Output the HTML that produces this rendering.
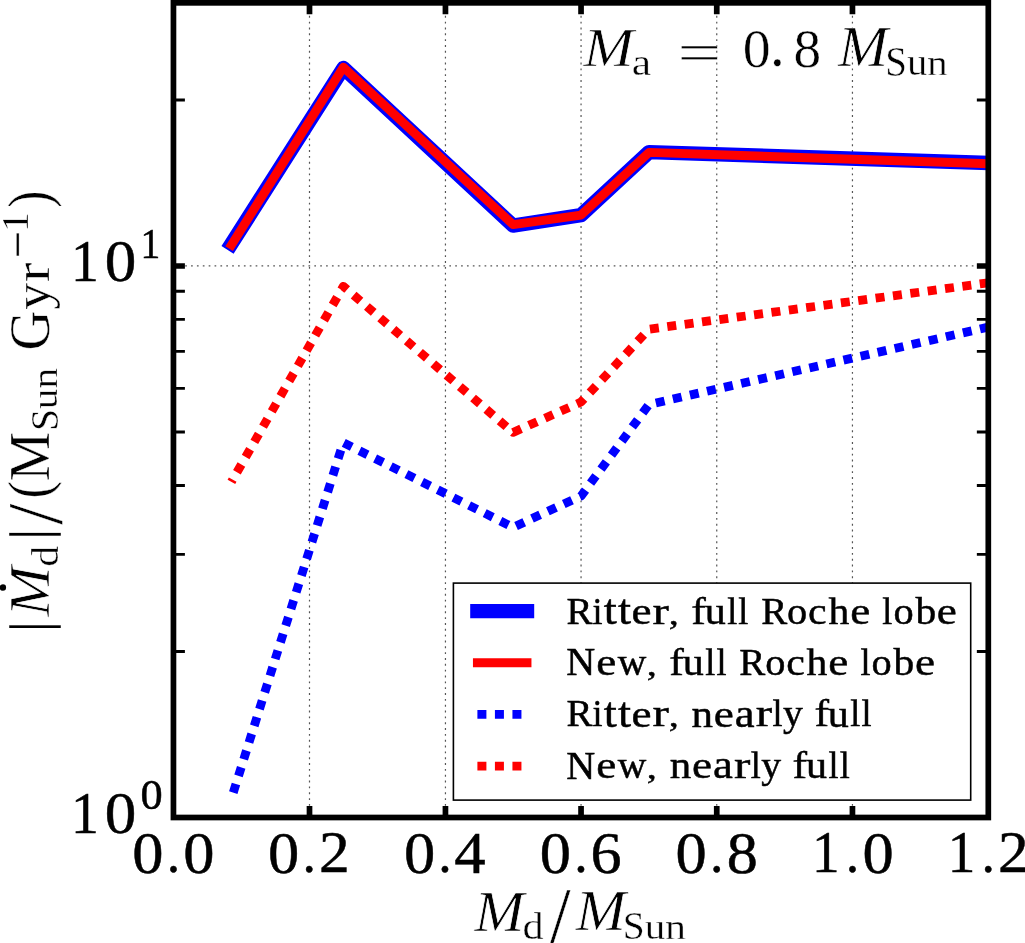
<!DOCTYPE html><html><head><meta charset="utf-8"><style>html,body{margin:0;padding:0;background:#fff;}svg{display:block;}</style></head><body>
<svg width="1025" height="943" viewBox="0 0 1025 943">
<rect x="0" y="0" width="1025" height="943" fill="#fff"/>
<path d="M309.50 817.50V2.85 M445.45 817.50V2.85 M581.05 817.50V2.85 M716.75 817.50V2.85 M852.45 817.50V2.85" stroke="#555" stroke-width="1.2" stroke-dasharray="1.9 3.938" stroke-dashoffset="0.05" fill="none"/>
<path d="M173.45 265.99H988.30" stroke="#555" stroke-width="1.25" stroke-dasharray="1.7 4.17" stroke-dashoffset="0" fill="none"/>
<clipPath id="ax"><rect x="173.45" y="2.85" width="814.85" height="814.65"/></clipPath>
<g clip-path="url(#ax)" fill="none">
<path d="M231.40 243.90 L343.40 68.00 L513.00 225.60 L581.00 215.10 L649.00 152.10 L988.30 163.00" stroke="#0000ff" stroke-width="14.4" stroke-linecap="square" stroke-linejoin="round"/>
<path d="M231.50 244.80 L343.40 67.20 L513.00 224.60 L581.00 215.10 L649.00 152.40 L988.30 163.75" stroke="#ff0000" stroke-width="8.9" stroke-linecap="square" stroke-linejoin="round"/>
<path d="M232.90 793.75 L343.20 442.60 L513.00 527.30 L581.00 496.10 L649.00 404.50 L988.30 327.10" stroke="#0000ff" stroke-width="8.8" stroke-dasharray="9 8.5" stroke-dashoffset="-1.2" stroke-linecap="butt" stroke-linejoin="round"/>
<path d="M231.40 481.90 L343.40 286.30 L513.00 432.40 L581.00 402.10 L649.00 329.20 L988.30 282.80" stroke="#ff0000" stroke-width="8.8" stroke-dasharray="9 8.52" stroke-dashoffset="6.4" stroke-linecap="butt" stroke-linejoin="round"/>
</g>
<path d="M309.50 817.50V806.05M309.50 2.85V14.30M445.45 817.50V806.05M445.45 2.85V14.30M581.05 817.50V806.05M581.05 2.85V14.30M716.75 817.50V806.05M716.75 2.85V14.30M852.45 817.50V806.05M852.45 2.85V14.30M173.45 265.99H184.90M988.30 265.99H976.85" stroke="#000" stroke-width="5.7" fill="none"/>
<path d="M173.45 651.48H184.90M988.30 651.48H976.85M173.45 554.36H184.90M988.30 554.36H976.85M173.45 485.46H184.90M988.30 485.46H976.85M173.45 432.01H184.90M988.30 432.01H976.85M173.45 388.34H184.90M988.30 388.34H976.85M173.45 351.42H184.90M988.30 351.42H976.85M173.45 319.44H184.90M988.30 319.44H976.85M173.45 291.22H184.90M988.30 291.22H976.85M173.45 99.97H184.90M988.30 99.97H976.85" stroke="#000" stroke-width="2.85" fill="none"/>
<rect x="173.45" y="2.85" width="814.85" height="814.65" fill="none" stroke="#000" stroke-width="5.7" stroke-linejoin="miter"/>
<rect x="453.4" y="583.1" width="517.3" height="217" fill="#fff" stroke="#000" stroke-width="1.6"/>
<path d="M477.4 611.1H527" stroke="#0000ff" stroke-width="14.4" stroke-linecap="square"/>
<path d="M477.4 662.8H527" stroke="#ff0000" stroke-width="8.9" stroke-linecap="square"/>
<path d="M477.4 714.4H527" stroke="#0000ff" stroke-width="8.8" stroke-dasharray="9 8.52"/>
<path d="M477.4 766.1H527" stroke="#ff0000" stroke-width="8.8" stroke-dasharray="9 8.52"/>
<g font-family="&quot;Liberation Serif&quot;, serif" font-size="200" fill="#000" style="font-kerning:none" opacity="0.999">
<text transform="matrix(0.3123 0.0000 0.0000 0.2960 132.3010 872.5355)" stroke="#000" stroke-width="1.64">0</text>
<text transform="matrix(0.2687 0.0000 0.0000 0.2762 166.7456 872.2990)" stroke="#000" stroke-width="1.84">.</text>
<text transform="matrix(0.3123 0.0000 0.0000 0.2960 183.3455 872.5355)" stroke="#000" stroke-width="1.64">0</text>
<text transform="matrix(0.3123 0.0000 0.0000 0.2960 268.1094 872.5355)" stroke="#000" stroke-width="1.64">0</text>
<text transform="matrix(0.2687 0.0000 0.0000 0.2762 302.5540 872.2990)" stroke="#000" stroke-width="1.84">.</text>
<text transform="matrix(0.3074 0.0000 0.0000 0.2970 318.9384 872.3700)" stroke="#000" stroke-width="1.65">2</text>
<text transform="matrix(0.3123 0.0000 0.0000 0.2960 403.9177 872.5355)" stroke="#000" stroke-width="1.64">0</text>
<text transform="matrix(0.2687 0.0000 0.0000 0.2762 438.3623 872.2990)" stroke="#000" stroke-width="1.84">.</text>
<text transform="matrix(0.3137 0.0000 0.0000 0.2993 454.2403 872.5226)" stroke="#000" stroke-width="1.63">4</text>
<text transform="matrix(0.3123 0.0000 0.0000 0.2960 539.7260 872.5355)" stroke="#000" stroke-width="1.64">0</text>
<text transform="matrix(0.2687 0.0000 0.0000 0.2762 574.1706 872.2990)" stroke="#000" stroke-width="1.84">.</text>
<text transform="matrix(0.3114 0.0000 0.0000 0.2982 590.5279 872.5311)" stroke="#000" stroke-width="1.64">6</text>
<text transform="matrix(0.3123 0.0000 0.0000 0.2960 675.5344 872.5355)" stroke="#000" stroke-width="1.64">0</text>
<text transform="matrix(0.2687 0.0000 0.0000 0.2762 709.9790 872.2990)" stroke="#000" stroke-width="1.84">.</text>
<text transform="matrix(0.3111 0.0000 0.0000 0.2960 726.6387 872.5355)" stroke="#000" stroke-width="1.65">8</text>
<text transform="matrix(0.2756 0.0000 0.0000 0.2982 811.8850 872.3700)" stroke="#000" stroke-width="1.74">1</text>
<text transform="matrix(0.2687 0.0000 0.0000 0.2762 845.7873 872.2990)" stroke="#000" stroke-width="1.84">.</text>
<text transform="matrix(0.3123 0.0000 0.0000 0.2960 862.3871 872.5355)" stroke="#000" stroke-width="1.64">0</text>
<text transform="matrix(0.2756 0.0000 0.0000 0.2982 947.6933 872.3700)" stroke="#000" stroke-width="1.74">1</text>
<text transform="matrix(0.2687 0.0000 0.0000 0.2762 981.5956 872.2990)" stroke="#000" stroke-width="1.84">.</text>
<text transform="matrix(0.3074 0.0000 0.0000 0.2970 997.9800 872.3700)" stroke="#000" stroke-width="1.65">2</text>
<text transform="matrix(0.2783 0.0000 0.0000 0.2969 71.0171 281.0955)" stroke="#000" stroke-width="1.74">1</text>
<text transform="matrix(0.3153 0.0000 0.0000 0.2948 104.8297 281.2604)" stroke="#000" stroke-width="1.64">0</text>
<text transform="matrix(0.1980 0.0000 0.0000 0.2129 140.4289 257.9500)" stroke="#000" stroke-width="2.44">1</text>
<text transform="matrix(0.2783 0.0000 0.0000 0.2969 71.0171 832.6955)" stroke="#000" stroke-width="1.74">1</text>
<text transform="matrix(0.3153 0.0000 0.0000 0.2948 104.8297 832.8604)" stroke="#000" stroke-width="1.64">0</text>
<text transform="matrix(0.2219 0.0000 0.0000 0.2059 140.5559 809.1381)" stroke="#000" stroke-width="2.34">0</text>
<text transform="matrix(0.1948 0.0000 0.0000 0.1921 566.4619 623.7558)" stroke="#000" stroke-width="2.58">R</text>
<text transform="matrix(0.1801 0.0000 0.0000 0.1914 592.6021 623.8500)" stroke="#000" stroke-width="2.69">i</text>
<text transform="matrix(0.2348 0.0000 0.0000 0.2083 603.8233 623.9300)" stroke="#000" stroke-width="2.26">t</text>
<text transform="matrix(0.2348 0.0000 0.0000 0.2083 617.9164 623.9300)" stroke="#000" stroke-width="2.26">t</text>
<text transform="matrix(0.2259 0.0000 0.0000 0.1948 631.4384 623.9571)" stroke="#000" stroke-width="2.38">e</text>
<text transform="matrix(0.2459 0.0000 0.0000 0.1926 652.4957 623.7556)" stroke="#000" stroke-width="2.30">r</text>
<text transform="matrix(0.2013 0.0000 0.0000 0.1599 668.7079 623.8199)" stroke="#000" stroke-width="2.79">,</text>
<text transform="matrix(0.2183 0.0000 0.0000 0.1861 691.2289 623.7588)" stroke="#000" stroke-width="2.48">f</text>
<text transform="matrix(0.2103 0.0000 0.0000 0.1947 704.6378 623.9573)" stroke="#000" stroke-width="2.47">u</text>
<text transform="matrix(0.1804 0.0000 0.0000 0.1888 727.1270 623.8500)" stroke="#000" stroke-width="2.71">l</text>
<text transform="matrix(0.1804 0.0000 0.0000 0.1888 738.3432 623.8500)" stroke="#000" stroke-width="2.71">l</text>
<text transform="matrix(0.1948 0.0000 0.0000 0.1921 761.2306 623.7558)" stroke="#000" stroke-width="2.58">R</text>
<text transform="matrix(0.2019 0.0000 0.0000 0.1948 787.0293 623.9571)" stroke="#000" stroke-width="2.52">o</text>
<text transform="matrix(0.2094 0.0000 0.0000 0.1948 808.0862 623.9571)" stroke="#000" stroke-width="2.48">c</text>
<text transform="matrix(0.2080 0.0000 0.0000 0.1888 828.4400 623.9462)" stroke="#000" stroke-width="2.52">h</text>
<text transform="matrix(0.2259 0.0000 0.0000 0.1948 850.1464 623.9571)" stroke="#000" stroke-width="2.38">e</text>
<text transform="matrix(0.1804 0.0000 0.0000 0.1888 882.3562 623.8500)" stroke="#000" stroke-width="2.71">l</text>
<text transform="matrix(0.2019 0.0000 0.0000 0.1948 893.4894 623.9571)" stroke="#000" stroke-width="2.52">o</text>
<text transform="matrix(0.2076 0.0000 0.0000 0.1896 915.4082 623.9673)" stroke="#000" stroke-width="2.52">b</text>
<text transform="matrix(0.2259 0.0000 0.0000 0.1948 936.8283 623.9571)" stroke="#000" stroke-width="2.38">e</text>
<text transform="matrix(0.2006 0.0000 0.0000 0.1959 566.2058 675.4466)" stroke="#000" stroke-width="2.52">N</text>
<text transform="matrix(0.2259 0.0000 0.0000 0.1948 596.3170 675.0571)" stroke="#000" stroke-width="2.38">e</text>
<text transform="matrix(0.1979 0.0000 0.0000 0.1894 617.6557 674.5713)" stroke="#000" stroke-width="2.58">w</text>
<text transform="matrix(0.2013 0.0000 0.0000 0.1599 646.8406 674.9199)" stroke="#000" stroke-width="2.79">,</text>
<text transform="matrix(0.2183 0.0000 0.0000 0.1861 669.3616 674.8588)" stroke="#000" stroke-width="2.48">f</text>
<text transform="matrix(0.2103 0.0000 0.0000 0.1947 682.7704 675.0573)" stroke="#000" stroke-width="2.47">u</text>
<text transform="matrix(0.1804 0.0000 0.0000 0.1888 705.2596 674.9500)" stroke="#000" stroke-width="2.71">l</text>
<text transform="matrix(0.1804 0.0000 0.0000 0.1888 716.4758 674.9500)" stroke="#000" stroke-width="2.71">l</text>
<text transform="matrix(0.1948 0.0000 0.0000 0.1921 739.3632 674.8558)" stroke="#000" stroke-width="2.58">R</text>
<text transform="matrix(0.2019 0.0000 0.0000 0.1948 765.1620 675.0571)" stroke="#000" stroke-width="2.52">o</text>
<text transform="matrix(0.2094 0.0000 0.0000 0.1948 786.2188 675.0571)" stroke="#000" stroke-width="2.48">c</text>
<text transform="matrix(0.2080 0.0000 0.0000 0.1888 806.5727 675.0462)" stroke="#000" stroke-width="2.52">h</text>
<text transform="matrix(0.2259 0.0000 0.0000 0.1948 828.2791 675.0571)" stroke="#000" stroke-width="2.38">e</text>
<text transform="matrix(0.1804 0.0000 0.0000 0.1888 860.4889 674.9500)" stroke="#000" stroke-width="2.71">l</text>
<text transform="matrix(0.2019 0.0000 0.0000 0.1948 871.6220 675.0571)" stroke="#000" stroke-width="2.52">o</text>
<text transform="matrix(0.2076 0.0000 0.0000 0.1896 893.5408 675.0673)" stroke="#000" stroke-width="2.52">b</text>
<text transform="matrix(0.2259 0.0000 0.0000 0.1948 914.9609 675.0571)" stroke="#000" stroke-width="2.38">e</text>
<text transform="matrix(0.1948 0.0000 0.0000 0.1921 566.4619 726.3558)" stroke="#000" stroke-width="2.58">R</text>
<text transform="matrix(0.1801 0.0000 0.0000 0.1914 592.6021 726.4500)" stroke="#000" stroke-width="2.69">i</text>
<text transform="matrix(0.2348 0.0000 0.0000 0.2083 603.8233 726.5300)" stroke="#000" stroke-width="2.26">t</text>
<text transform="matrix(0.2348 0.0000 0.0000 0.2083 617.9164 726.5300)" stroke="#000" stroke-width="2.26">t</text>
<text transform="matrix(0.2259 0.0000 0.0000 0.1948 631.4384 726.5571)" stroke="#000" stroke-width="2.38">e</text>
<text transform="matrix(0.2459 0.0000 0.0000 0.1926 652.4957 726.3556)" stroke="#000" stroke-width="2.30">r</text>
<text transform="matrix(0.2013 0.0000 0.0000 0.1599 668.7079 726.4199)" stroke="#000" stroke-width="2.79">,</text>
<text transform="matrix(0.2148 0.0000 0.0000 0.1937 691.5511 726.5487)" stroke="#000" stroke-width="2.45">n</text>
<text transform="matrix(0.2259 0.0000 0.0000 0.1948 713.8392 726.5571)" stroke="#000" stroke-width="2.38">e</text>
<text transform="matrix(0.2236 0.0000 0.0000 0.1958 734.7944 726.5550)" stroke="#000" stroke-width="2.39">a</text>
<text transform="matrix(0.2459 0.0000 0.0000 0.1926 755.8049 726.3556)" stroke="#000" stroke-width="2.30">r</text>
<text transform="matrix(0.1804 0.0000 0.0000 0.1888 772.5741 726.4500)" stroke="#000" stroke-width="2.71">l</text>
<text transform="matrix(0.1986 0.0000 0.0000 0.1896 783.0018 726.1869)" stroke="#000" stroke-width="2.58">y</text>
<text transform="matrix(0.2183 0.0000 0.0000 0.1861 814.4192 726.3588)" stroke="#000" stroke-width="2.48">f</text>
<text transform="matrix(0.2103 0.0000 0.0000 0.1947 827.8280 726.5573)" stroke="#000" stroke-width="2.47">u</text>
<text transform="matrix(0.1804 0.0000 0.0000 0.1888 850.3172 726.4500)" stroke="#000" stroke-width="2.71">l</text>
<text transform="matrix(0.1804 0.0000 0.0000 0.1888 861.5334 726.4500)" stroke="#000" stroke-width="2.71">l</text>
<text transform="matrix(0.2006 0.0000 0.0000 0.1959 566.2058 778.5466)" stroke="#000" stroke-width="2.52">N</text>
<text transform="matrix(0.2259 0.0000 0.0000 0.1948 596.3170 778.1571)" stroke="#000" stroke-width="2.38">e</text>
<text transform="matrix(0.1979 0.0000 0.0000 0.1894 617.6557 777.6713)" stroke="#000" stroke-width="2.58">w</text>
<text transform="matrix(0.2013 0.0000 0.0000 0.1599 646.8406 778.0199)" stroke="#000" stroke-width="2.79">,</text>
<text transform="matrix(0.2148 0.0000 0.0000 0.1937 669.6838 778.1487)" stroke="#000" stroke-width="2.45">n</text>
<text transform="matrix(0.2259 0.0000 0.0000 0.1948 691.9718 778.1571)" stroke="#000" stroke-width="2.38">e</text>
<text transform="matrix(0.2236 0.0000 0.0000 0.1958 712.9271 778.1550)" stroke="#000" stroke-width="2.39">a</text>
<text transform="matrix(0.2459 0.0000 0.0000 0.1926 733.9375 777.9556)" stroke="#000" stroke-width="2.30">r</text>
<text transform="matrix(0.1804 0.0000 0.0000 0.1888 750.7068 778.0500)" stroke="#000" stroke-width="2.71">l</text>
<text transform="matrix(0.1986 0.0000 0.0000 0.1896 761.1344 777.7869)" stroke="#000" stroke-width="2.58">y</text>
<text transform="matrix(0.2183 0.0000 0.0000 0.1861 792.5518 777.9588)" stroke="#000" stroke-width="2.48">f</text>
<text transform="matrix(0.2103 0.0000 0.0000 0.1947 805.9607 778.1573)" stroke="#000" stroke-width="2.47">u</text>
<text transform="matrix(0.1804 0.0000 0.0000 0.1888 828.4498 778.0500)" stroke="#000" stroke-width="2.71">l</text>
<text transform="matrix(0.1804 0.0000 0.0000 0.1888 839.6661 778.0500)" stroke="#000" stroke-width="2.71">l</text>
<text transform="matrix(0.2990 0.0000 0.0000 0.2851 474.6231 930.5500)" font-style="italic" stroke="#fff" stroke-width="2.40">M</text>
<text transform="matrix(0.2110 0.0000 0.0000 0.1876 522.5231 938.8249)" stroke="#fff" stroke-width="2.01">d</text>
<text transform="matrix(0.3748 0.0000 0.0000 0.4038 549.8000 943.0925)" stroke="#fff" stroke-width="1.03">/</text>
<text transform="matrix(0.3013 0.0000 0.0000 0.2812 575.7281 930.0500)" font-style="italic" stroke="#fff" stroke-width="2.40">M</text>
<text transform="matrix(0.1975 0.0000 0.0000 0.2037 622.8322 939.3925)" stroke="#fff" stroke-width="1.99">S</text>
<text transform="matrix(0.2056 0.0000 0.0000 0.1836 644.6622 939.0353)" stroke="#fff" stroke-width="2.06">u</text>
<text transform="matrix(0.2100 0.0000 0.0000 0.1783 665.0331 939.0779)" stroke="#fff" stroke-width="2.07">n</text>
<text transform="matrix(0.3021 0.0000 0.0000 0.2790 583.3800 66.0100)" font-style="italic" stroke="#fff" stroke-width="2.41">M</text>
<text transform="matrix(0.2189 0.0000 0.0000 0.1927 631.7677 75.1146)" stroke="#fff" stroke-width="1.95">a</text>
<text transform="matrix(0.3858 0.0000 0.0000 0.2720 677.4545 70.8520)" stroke="#fff" stroke-width="1.23">=</text>
<text transform="matrix(0.2785 0.0000 0.0000 0.2741 742.8734 67.2519)" stroke="#fff" stroke-width="1.45">0</text>
<text transform="matrix(0.3042 0.0000 0.0000 0.3157 769.6458 65.7530)" stroke="#fff" stroke-width="1.29">.</text>
<text transform="matrix(0.2762 0.0000 0.0000 0.2704 793.3899 66.7593)" stroke="#fff" stroke-width="1.46">8</text>
<text transform="matrix(0.3013 0.0000 0.0000 0.2825 837.9281 66.0100)" font-style="italic" stroke="#fff" stroke-width="2.40">M</text>
<text transform="matrix(0.1949 0.0000 0.0000 0.2067 885.3658 75.5866)" stroke="#fff" stroke-width="1.99">S</text>
<text transform="matrix(0.2029 0.0000 0.0000 0.1863 906.9035 75.2241)" stroke="#fff" stroke-width="2.06">u</text>
<text transform="matrix(0.2072 0.0000 0.0000 0.1809 927.0008 75.2672)" stroke="#fff" stroke-width="2.07">n</text>
<text transform="matrix(0.0000 -0.3100 0.2895 0.0000 48.9995 632.6500)" stroke="#fff" stroke-width="1.34">|</text>
<text transform="matrix(0.0000 -0.3018 0.2824 0.0000 48.7500 616.5706)" font-style="italic" stroke="#fff" stroke-width="2.40">M</text>
<text transform="matrix(0.0000 -0.2099 0.1854 0.0000 57.5792 566.6692)" stroke="#fff" stroke-width="2.03">d</text>
<text transform="matrix(0.0000 -0.3300 0.2898 0.0000 48.9376 540.9500)" stroke="#fff" stroke-width="1.29">|</text>
<text transform="matrix(0.0000 -0.3802 0.3959 0.0000 60.7582 524.8000)" stroke="#fff" stroke-width="1.03">/</text>
<text transform="matrix(0.0000 -0.2629 0.2965 0.0000 49.4063 498.6132)" stroke="#fff" stroke-width="1.43">(</text>
<text transform="matrix(0.0000 -0.2761 0.2858 0.0000 49.2000 480.9917)" stroke="#fff" stroke-width="1.42">M</text>
<text transform="matrix(0.0000 -0.1982 0.2022 0.0000 57.5955 431.0762)" stroke="#fff" stroke-width="2.00">S</text>
<text transform="matrix(0.0000 -0.2063 0.1823 0.0000 57.2410 409.1731)" stroke="#fff" stroke-width="2.06">u</text>
<text transform="matrix(0.0000 -0.2107 0.1770 0.0000 57.2833 388.7338)" stroke="#fff" stroke-width="2.07">n</text>
<text transform="matrix(0.0000 -0.2773 0.2903 0.0000 49.2225 350.6186)" stroke="#fff" stroke-width="1.41">G</text>
<text transform="matrix(0.0000 -0.2686 0.2535 0.0000 48.7287 309.6372)" stroke="#fff" stroke-width="1.53">y</text>
<text transform="matrix(0.0000 -0.2979 0.2519 0.0000 48.5160 282.2167)" stroke="#fff" stroke-width="1.46">r</text>
<text transform="matrix(0.0000 -0.2461 0.2878 0.0000 37.3544 258.5530)" stroke="#fff" stroke-width="1.50">−</text>
<text transform="matrix(0.0000 -0.1988 0.1924 0.0000 28.4000 231.8961)" stroke="#fff" stroke-width="2.05">1</text>
<text transform="matrix(0.0000 -0.2567 0.2938 0.0000 49.3053 207.7404)" stroke="#fff" stroke-width="1.46">)</text>
<circle cx="2.9" cy="587.5" r="3.2"/>
</g>
</svg></body></html>
